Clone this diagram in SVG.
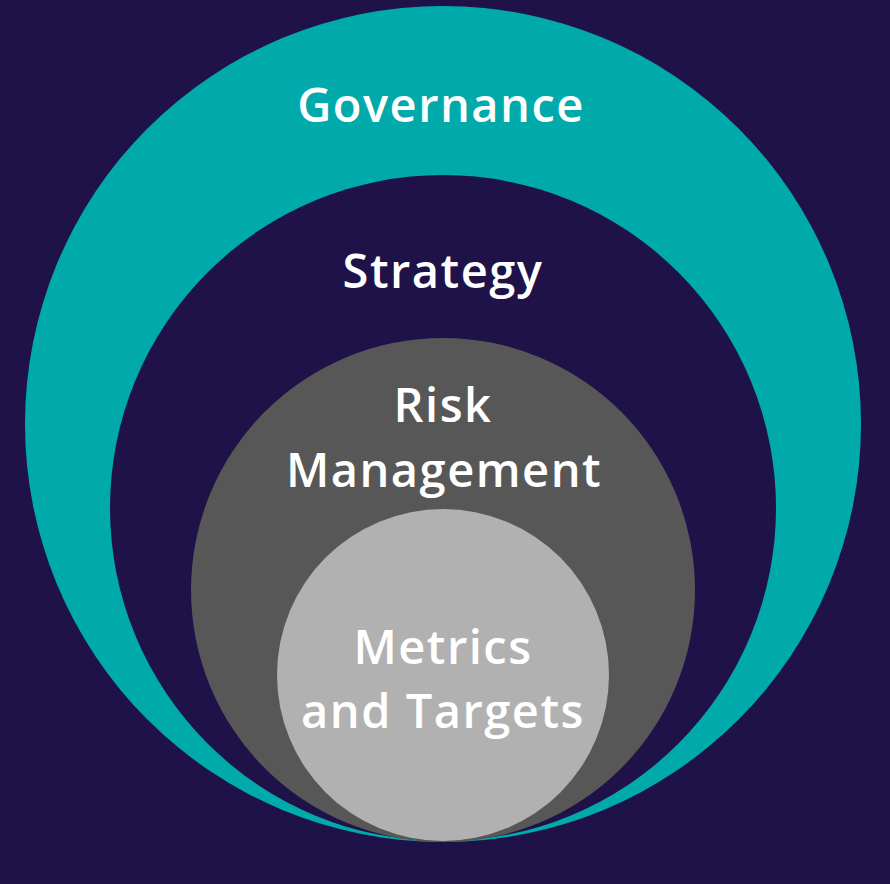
<svg xmlns="http://www.w3.org/2000/svg" width="890" height="884" viewBox="0 0 890 884">
<style>
.t{font-family:"Open Sans","Noto Sans","DejaVu Sans",sans-serif;font-size:47px;font-weight:600;fill:#ffffff;text-anchor:middle;letter-spacing:1.5px}
</style>
<rect width="890" height="884" fill="#1e1249"/>
<g id="governance">
<circle cx="443" cy="424" r="418" fill="#00aaab"/>
<text class="t" x="441" y="122">Governance</text>
</g>
<g id="strategy">
<circle cx="443" cy="508" r="333" fill="#1e1249"/>
<text class="t" x="443" y="288">Strategy</text>
</g>
<g id="risk-management">
<circle cx="443" cy="590" r="252" fill="#575757"/>
<text class="t" x="443" y="422">Risk</text>
<text class="t" x="444" y="487">Management</text>
</g>
<g id="metrics-and-targets">
<circle cx="443" cy="675" r="166" fill="#b1b1b1"/>
<text class="t" x="443" y="664">Metrics</text>
<text class="t" x="443" y="728">and Targets</text>
</g>
<g id="connectors"/>
</svg>
